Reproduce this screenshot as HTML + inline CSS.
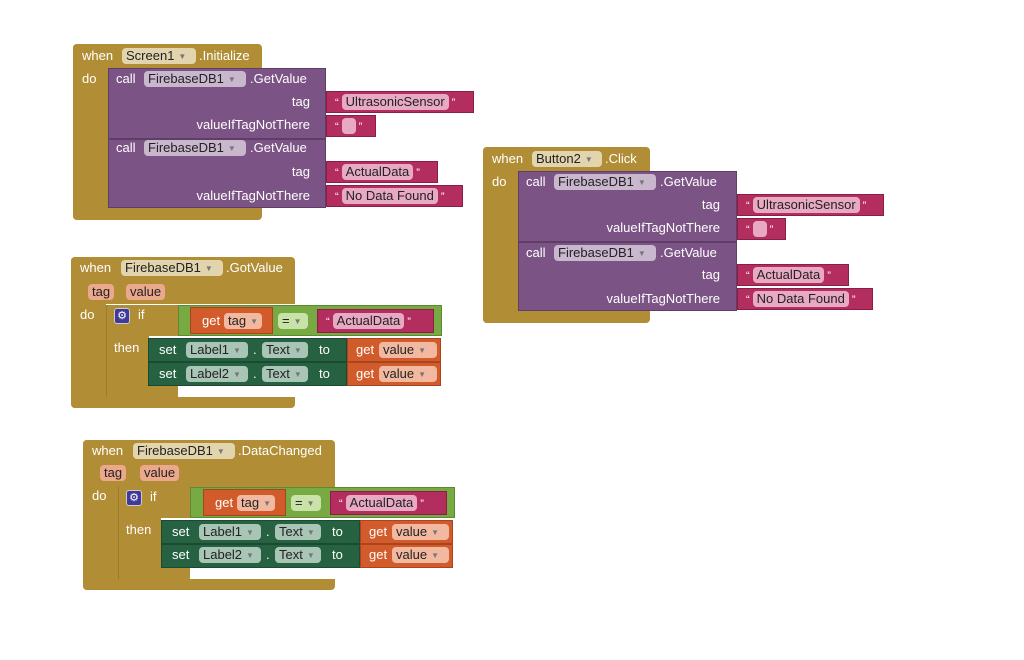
<!DOCTYPE html>
<html><head><meta charset="utf-8"><style>
body{margin:0;width:1024px;height:660px;background:#fff;position:relative;overflow:hidden;font-family:"Liberation Sans",sans-serif;font-size:13px;color:#fff}
.g{position:absolute}
.r{position:absolute;box-sizing:border-box}
.gold{background:#B18E35}
.pur{background:#7C5385;border:1px solid #5e3d66}
.pink{background:#B32D5E;border:1px solid #8a1f46}
.grn{background:#77AA42;border:1px solid #5c8a30}
.set{background:#266141;border:1px solid #1a4a30}
.org{background:#D25B2C;border:1px solid #a8441e}
.t{position:absolute;line-height:16px;white-space:nowrap}
.rt{position:absolute;line-height:16px;white-space:nowrap;text-align:right}
.p{position:absolute;height:16px;line-height:16px;border-radius:4px;color:#222;padding:0 4px;box-sizing:border-box;white-space:nowrap}
.pi{display:inline-block;height:16px;line-height:16px;border-radius:4px;color:#222;padding:0 4px;background:#E8A9C3;margin:0 3px;vertical-align:top;min-width:14px;box-sizing:border-box}
.q{font-size:11px}
.p i{font-style:normal;font-size:8px;color:#777;margin-left:4px;vertical-align:1px}
.pg{background:#E2D5AE}.pp{background:#C9B7CD}.pk{background:#E8A9C3}.po{background:#F2B9A0}.ps{background:#A9C5B5}.pl{background:#C8E2A8}.pa{background:#EBA88C}
</style></head><body>

<!-- Block A: Screen1.Initialize -->
<div class="g" style="left:73px;top:44px">
<div class="r gold" style="left:0;top:0;width:189px;height:24px;border-radius:4px 4px 0 0"></div>
<div class="r gold" style="left:0;top:0;width:35px;height:176px;border-radius:4px 0 0 4px"></div>
<div class="r gold" style="left:0;top:164px;width:189px;height:12px;border-radius:0 0 4px 4px"></div>
<div class="r pur" style="left:35px;top:24px;width:218px;height:71px"></div>
<div class="r pur" style="left:35px;top:95px;width:218px;height:69px"></div>
<div class="r pink" style="left:253px;top:47px;width:148px;height:22px"></div>
<div class="r pink" style="left:253px;top:71px;width:50px;height:22px"></div>
<div class="r pink" style="left:253px;top:117px;width:112px;height:22px"></div>
<div class="r pink" style="left:253px;top:141px;width:137px;height:22px"></div>
<span class="t" style="left:9px;top:4px">when</span>
<span class="p pg" style="left:49px;top:4px;width:74px">Screen1<i>▼</i></span>
<span class="t" style="left:126px;top:4px">.Initialize</span>
<span class="t" style="left:9px;top:27px">do</span>
<span class="t" style="left:43px;top:27px">call</span>
<span class="p pp" style="left:71px;top:27px;width:102px">FirebaseDB1<i>▼</i></span>
<span class="t" style="left:177px;top:27px">.GetValue</span>
<span class="rt" style="left:100px;width:137px;top:50px">tag</span>
<span class="rt" style="left:100px;width:137px;top:73px">valueIfTagNotThere</span>
<span class="t" style="left:43px;top:96px">call</span>
<span class="p pp" style="left:71px;top:96px;width:102px">FirebaseDB1<i>▼</i></span>
<span class="t" style="left:177px;top:96px">.GetValue</span>
<span class="rt" style="left:100px;width:137px;top:120px">tag</span>
<span class="rt" style="left:100px;width:137px;top:144px">valueIfTagNotThere</span>
<span class="t" style="left:262px;top:50px"><span class="q">“</span><span class="pi">UltrasonicSensor</span><span class="q">”</span></span>
<span class="t" style="left:262px;top:74px"><span class="q">“</span><span class="pi"></span><span class="q">”</span></span>
<span class="t" style="left:262px;top:120px"><span class="q">“</span><span class="pi">ActualData</span><span class="q">”</span></span>
<span class="t" style="left:262px;top:144px"><span class="q">“</span><span class="pi">No Data Found</span><span class="q">”</span></span>
</div>

<!-- Block D: Button2.Click -->
<div class="g" style="left:483px;top:147px">
<div class="r gold" style="left:0;top:0;width:167px;height:24px;border-radius:4px 4px 0 0"></div>
<div class="r gold" style="left:0;top:0;width:35px;height:176px;border-radius:4px 0 0 4px"></div>
<div class="r gold" style="left:0;top:164px;width:167px;height:12px;border-radius:0 0 4px 4px"></div>
<div class="r pur" style="left:35px;top:24px;width:219px;height:71px"></div>
<div class="r pur" style="left:35px;top:95px;width:219px;height:69px"></div>
<div class="r pink" style="left:254px;top:47px;width:147px;height:22px"></div>
<div class="r pink" style="left:254px;top:71px;width:49px;height:22px"></div>
<div class="r pink" style="left:254px;top:117px;width:112px;height:22px"></div>
<div class="r pink" style="left:254px;top:141px;width:136px;height:22px"></div>
<span class="t" style="left:9px;top:4px">when</span>
<span class="p pg" style="left:49px;top:4px;width:70px">Button2<i>▼</i></span>
<span class="t" style="left:122px;top:4px">.Click</span>
<span class="t" style="left:9px;top:27px">do</span>
<span class="t" style="left:43px;top:27px">call</span>
<span class="p pp" style="left:71px;top:27px;width:102px">FirebaseDB1<i>▼</i></span>
<span class="t" style="left:177px;top:27px">.GetValue</span>
<span class="rt" style="left:100px;width:137px;top:50px">tag</span>
<span class="rt" style="left:100px;width:137px;top:73px">valueIfTagNotThere</span>
<span class="t" style="left:43px;top:98px">call</span>
<span class="p pp" style="left:71px;top:98px;width:102px">FirebaseDB1<i>▼</i></span>
<span class="t" style="left:177px;top:98px">.GetValue</span>
<span class="rt" style="left:100px;width:137px;top:120px">tag</span>
<span class="rt" style="left:100px;width:137px;top:144px">valueIfTagNotThere</span>
<span class="t" style="left:263px;top:50px"><span class="q">“</span><span class="pi">UltrasonicSensor</span><span class="q">”</span></span>
<span class="t" style="left:263px;top:74px"><span class="q">“</span><span class="pi"></span><span class="q">”</span></span>
<span class="t" style="left:263px;top:120px"><span class="q">“</span><span class="pi">ActualData</span><span class="q">”</span></span>
<span class="t" style="left:263px;top:144px"><span class="q">“</span><span class="pi">No Data Found</span><span class="q">”</span></span>
</div>

<!-- Block B: GotValue -->
<div class="g" style="left:71px;top:257px">
<div class="r gold" style="left:0;top:0;width:224px;height:47px;border-radius:4px 4px 0 0"></div>
<div class="r gold" style="left:0;top:0;width:35px;height:151px;border-radius:4px 0 0 4px"></div>
<div class="r gold" style="left:0;top:140px;width:224px;height:11px;border-radius:0 0 4px 4px"></div>
<div class="r gold" style="left:35px;top:48px;width:72px;height:31px;border-left:1px solid #9a7a2c"></div>
<div class="r gold" style="left:35px;top:48px;width:43px;height:92px;border-left:1px solid #9a7a2c"></div>
<div class="r gold" style="left:35px;top:129px;width:72px;height:11px;border-left:1px solid #9a7a2c"></div>
<div class="r grn" style="left:107px;top:48px;width:264px;height:31px"></div>
<div class="r org" style="left:119px;top:50px;width:83px;height:27px"></div>
<div class="r pink" style="left:246px;top:52px;width:117px;height:24px"></div>
<div class="r set" style="left:77px;top:81px;width:199px;height:24px"></div>
<div class="r set" style="left:77px;top:105px;width:199px;height:24px"></div>
<div class="r org" style="left:276px;top:81px;width:94px;height:24px"></div>
<div class="r org" style="left:276px;top:105px;width:94px;height:24px"></div>
<span class="t" style="left:9px;top:3px">when</span>
<span class="p pg" style="left:50px;top:3px;width:102px">FirebaseDB1<i>▼</i></span>
<span class="t" style="left:155px;top:3px">.GotValue</span>
<span class="p pa" style="left:17px;top:27px">tag</span>
<span class="p pa" style="left:55px;top:27px">value</span>
<span class="t" style="left:9px;top:50px">do</span>
<span class="r" style="left:43px;top:51px;width:16px;height:16px;background:#3f3a9a;border:1px solid #ccc;border-radius:3px;color:#fff;font-size:11px;line-height:14px;text-align:center">⚙</span>
<span class="t" style="left:67px;top:50px">if</span>
<span class="t" style="left:131px;top:56px">get</span>
<span class="p po" style="left:153px;top:56px">tag<i>▼</i></span>
<span class="p pl" style="left:207px;top:56px;width:30px">=<i>▼</i></span>
<span class="t" style="left:255px;top:56px"><span class="q">“</span><span class="pi">ActualData</span><span class="q">”</span></span>
<span class="t" style="left:43px;top:83px">then</span>
<span class="t" style="left:88px;top:85px">set</span>
<span class="p ps" style="left:115px;top:85px;width:62px">Label1<i>▼</i></span>
<span class="t" style="left:182px;top:85px">.</span>
<span class="p ps" style="left:191px;top:85px;width:46px">Text<i>▼</i></span>
<span class="t" style="left:248px;top:85px">to</span>
<span class="t" style="left:285px;top:85px">get</span>
<span class="p po" style="left:308px;top:85px;width:58px">value<i>▼</i></span>
<span class="t" style="left:88px;top:109px">set</span>
<span class="p ps" style="left:115px;top:109px;width:62px">Label2<i>▼</i></span>
<span class="t" style="left:182px;top:109px">.</span>
<span class="p ps" style="left:191px;top:109px;width:46px">Text<i>▼</i></span>
<span class="t" style="left:248px;top:109px">to</span>
<span class="t" style="left:285px;top:109px">get</span>
<span class="p po" style="left:308px;top:109px;width:58px">value<i>▼</i></span>
</div>

<!-- Block C: DataChanged -->
<div class="g" style="left:83px;top:440px">
<div class="r gold" style="left:0;top:0;width:252px;height:47px;border-radius:4px 4px 0 0"></div>
<div class="r gold" style="left:0;top:0;width:35px;height:150px;border-radius:4px 0 0 4px"></div>
<div class="r gold" style="left:0;top:139px;width:252px;height:11px;border-radius:0 0 4px 4px"></div>
<div class="r gold" style="left:35px;top:47px;width:72px;height:31px;border-left:1px solid #9a7a2c"></div>
<div class="r gold" style="left:35px;top:47px;width:43px;height:92px;border-left:1px solid #9a7a2c"></div>
<div class="r gold" style="left:35px;top:128px;width:72px;height:11px;border-left:1px solid #9a7a2c"></div>
<div class="r grn" style="left:107px;top:47px;width:265px;height:31px"></div>
<div class="r org" style="left:120px;top:49px;width:83px;height:27px"></div>
<div class="r pink" style="left:247px;top:51px;width:117px;height:24px"></div>
<div class="r set" style="left:78px;top:80px;width:199px;height:24px"></div>
<div class="r set" style="left:78px;top:104px;width:199px;height:24px"></div>
<div class="r org" style="left:277px;top:80px;width:93px;height:24px"></div>
<div class="r org" style="left:277px;top:104px;width:93px;height:24px"></div>
<span class="t" style="left:9px;top:3px">when</span>
<span class="p pg" style="left:50px;top:3px;width:102px">FirebaseDB1<i>▼</i></span>
<span class="t" style="left:155px;top:3px">.DataChanged</span>
<span class="p pa" style="left:17px;top:25px">tag</span>
<span class="p pa" style="left:57px;top:25px">value</span>
<span class="t" style="left:9px;top:48px">do</span>
<span class="r" style="left:43px;top:50px;width:16px;height:16px;background:#3f3a9a;border:1px solid #ccc;border-radius:3px;color:#fff;font-size:11px;line-height:14px;text-align:center">⚙</span>
<span class="t" style="left:67px;top:49px">if</span>
<span class="t" style="left:132px;top:55px">get</span>
<span class="p po" style="left:154px;top:55px">tag<i>▼</i></span>
<span class="p pl" style="left:208px;top:55px;width:30px">=<i>▼</i></span>
<span class="t" style="left:256px;top:55px"><span class="q">“</span><span class="pi">ActualData</span><span class="q">”</span></span>
<span class="t" style="left:43px;top:82px">then</span>
<span class="t" style="left:89px;top:84px">set</span>
<span class="p ps" style="left:116px;top:84px;width:62px">Label1<i>▼</i></span>
<span class="t" style="left:183px;top:84px">.</span>
<span class="p ps" style="left:192px;top:84px;width:46px">Text<i>▼</i></span>
<span class="t" style="left:249px;top:84px">to</span>
<span class="t" style="left:286px;top:84px">get</span>
<span class="p po" style="left:309px;top:84px;width:57px">value<i>▼</i></span>
<span class="t" style="left:89px;top:107px">set</span>
<span class="p ps" style="left:116px;top:107px;width:62px">Label2<i>▼</i></span>
<span class="t" style="left:183px;top:107px">.</span>
<span class="p ps" style="left:192px;top:107px;width:46px">Text<i>▼</i></span>
<span class="t" style="left:249px;top:107px">to</span>
<span class="t" style="left:286px;top:107px">get</span>
<span class="p po" style="left:309px;top:107px;width:57px">value<i>▼</i></span>
</div>

</body></html>
